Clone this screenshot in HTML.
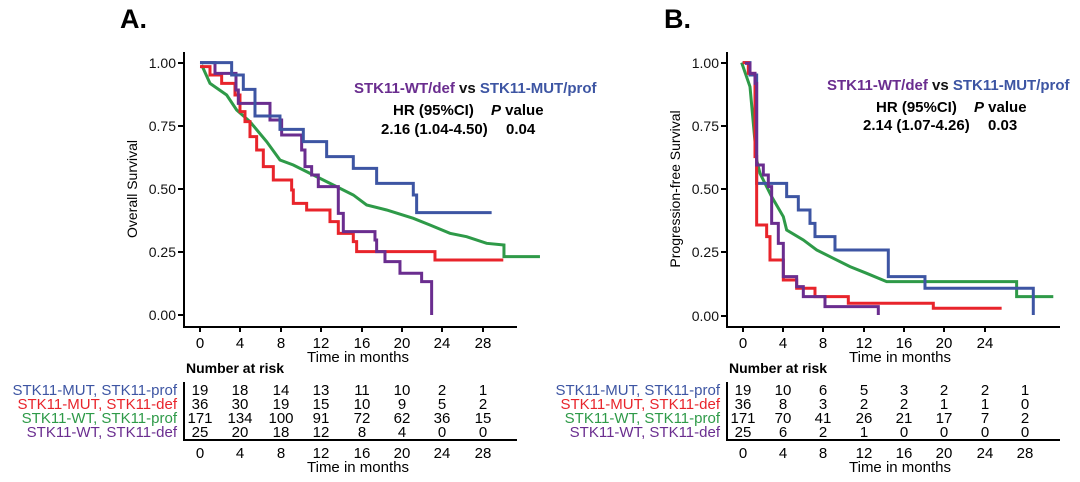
<!DOCTYPE html>
<html><head><meta charset="utf-8"><style>
html,body{margin:0;padding:0;background:#fff;}
svg{display:block;font-family:"Liberation Sans",Arial,sans-serif;}
</style></head><body>
<svg width="1080" height="482" viewBox="0 0 1080 482" xmlns="http://www.w3.org/2000/svg">
<text x="120" y="28" font-size="27" font-weight="bold">A.</text>
<text x="664" y="28" font-size="27" font-weight="bold">B.</text>

<!-- Panel A -->
<g fill="none" stroke-width="9" transform="translate(100,40) scale(0.3333)">
<path stroke="#2e9a48" d="M305,75 L330,130 L380,165 L410,210 L450,245 L500,305 L540,360 L580,375 L640,405 L700,435 L760,465 L800,495 L860,510 L940,535 L990,555 L1050,580 L1100,590 L1160,610 L1212,615 V650 H1320"/>
<path stroke="#e8242b" d="M300,80 H330 V105 H365 V130 H405 V165 H420 V215 H435 V245 H450 V290 H470 V330 H490 V380 H520 V420 H575 V450 H580 V490 H620 V510 H690 V545 H715 V580 H760 V605 H770 V635 H1005 V660 H1210"/>
<path stroke="#6a2d8f" d="M300,68 H345 V100 H408 V150 H415 V190 H510 V240 H545 V285 H605 V330 H615 V380 H635 V405 H655 V440 H715 V520 H730 V575 H825 V600 H830 V635 H855 V665 H900 V700 H965 V725 H995 V825"/>
<path stroke="#3d55a3" d="M300,68 H395 V105 H430 V148 H465 V228 H540 V268 H610 V305 H680 V350 H760 V385 H830 V430 H940 V465 H950 V518 H1175"/>
</g>
<g stroke="#000" stroke-width="2" fill="none">
<path d="M184,52 V327 H517"/>
<path d="M178,63 H184 M178,126 H184 M178,189 H184 M178,252 H184 M178,315 H184"/>
<path d="M200,327 V332 M240,327 V332 M281,327 V332 M321,327 V332 M362,327 V332 M402,327 V332 M442,327 V332 M483,327 V332"/>
<path d="M184,382 V440 H517"/>
</g>
<g font-size="14" text-anchor="end" fill="#111">
<text x="176" y="68">1.00</text><text x="176" y="131">0.75</text><text x="176" y="194">0.50</text><text x="176" y="257">0.25</text><text x="176" y="320">0.00</text>
</g>
<text transform="translate(137,189) rotate(-90)" font-size="14" text-anchor="middle">Overall Survival</text>
<g font-size="15" text-anchor="middle">
<text x="200" y="348">0</text><text x="240" y="348">4</text><text x="281" y="348">8</text><text x="321" y="348">12</text><text x="362" y="348">16</text><text x="402" y="348">20</text><text x="442" y="348">24</text><text x="483" y="348">28</text>
<text x="358" y="362">Time in months</text>
</g>
<text x="354" y="93" font-size="15" font-weight="bold" fill="#6a2d8f">STK11-WT/def <tspan fill="#111">vs</tspan> <tspan fill="#3d55a3">STK11-MUT/prof</tspan></text>
<text x="393" y="115" font-size="15" font-weight="bold">HR (95%CI)</text>
<text x="491" y="115" font-size="15" font-weight="bold"><tspan font-style="italic">P</tspan> value</text>
<text x="381" y="134" font-size="15" font-weight="bold">2.16 (1.04-4.50)</text>
<text x="506" y="134" font-size="15" font-weight="bold">0.04</text>
<text x="186" y="373" font-size="14" font-weight="bold">Number at risk</text>
<g font-size="15" text-anchor="end">
<text x="177" y="395" fill="#3d55a3">STK11-MUT, STK11-prof</text>
<text x="177" y="409" fill="#e8242b">STK11-MUT, STK11-def</text>
<text x="177" y="423" fill="#2e9a48">STK11-WT, STK11-prof</text>
<text x="177" y="437" fill="#6a2d8f">STK11-WT, STK11-def</text>
</g>
<g font-size="15" text-anchor="middle">
<text y="395"><tspan x="200">19</tspan><tspan x="240">18</tspan><tspan x="281">14</tspan><tspan x="321">13</tspan><tspan x="362">11</tspan><tspan x="402">10</tspan><tspan x="442">2</tspan><tspan x="483">1</tspan></text>
<text y="409"><tspan x="200">36</tspan><tspan x="240">30</tspan><tspan x="281">19</tspan><tspan x="321">15</tspan><tspan x="362">10</tspan><tspan x="402">9</tspan><tspan x="442">5</tspan><tspan x="483">2</tspan></text>
<text y="423"><tspan x="200">171</tspan><tspan x="240">134</tspan><tspan x="281">100</tspan><tspan x="321">91</tspan><tspan x="362">72</tspan><tspan x="402">62</tspan><tspan x="442">36</tspan><tspan x="483">15</tspan></text>
<text y="437"><tspan x="200">25</tspan><tspan x="240">20</tspan><tspan x="281">18</tspan><tspan x="321">12</tspan><tspan x="362">8</tspan><tspan x="402">4</tspan><tspan x="442">0</tspan><tspan x="483">0</tspan></text>
<text y="458"><tspan x="200">0</tspan><tspan x="240">4</tspan><tspan x="281">8</tspan><tspan x="321">12</tspan><tspan x="362">16</tspan><tspan x="402">20</tspan><tspan x="442">24</tspan><tspan x="483">28</tspan></text>
<text x="358" y="472">Time in months</text>
</g>

<!-- Panel B -->
<g fill="none" stroke-width="9" transform="translate(660,40) scale(0.3333)">
<path stroke="#2e9a48" d="M245,68 L270,140 L290,360 L300,400 L335,470 L370,530 L380,570 L430,600 L470,630 L520,655 L570,680 L620,700 L680,725 H1070 V770 H1180"/>
<path stroke="#3d55a3" d="M248,68 H270 V105 H290 V430 H380 V470 H415 V510 H450 V550 H465 V590 H525 V630 H685 V710 H795 V745 H1120 V825"/>
<path stroke="#e8242b" d="M248,68 H265 V100 H285 V350 H290 V555 H320 V590 H330 V660 H370 V720 H410 V745 H465 V770 H565 V790 H820 V805 H1025"/>
<path stroke="#6a2d8f" d="M255,70 H270 V100 H285 V130 H290 V375 H310 V405 H325 V440 H335 V550 H355 V610 H370 V710 H410 V740 H430 V770 H495 V800 H655 V825"/>
</g>
<g stroke="#000" stroke-width="2" fill="none">
<path d="M727,52 V327 H1060"/>
<path d="M721,63 H727 M721,126 H727 M721,189 H727 M721,252 H727 M721,316 H727"/>
<path d="M743,327 V332 M783,327 V332 M823,327 V332 M864,327 V332 M904,327 V332 M944,327 V332 M985,327 V332"/>
<path d="M727,382 V440 H1060"/>
</g>
<g font-size="14" text-anchor="end" fill="#111">
<text x="719" y="68">1.00</text><text x="719" y="131">0.75</text><text x="719" y="194">0.50</text><text x="719" y="257">0.25</text><text x="719" y="321">0.00</text>
</g>
<text transform="translate(680,189) rotate(-90)" font-size="14" text-anchor="middle">Progression-free Survival</text>
<g font-size="15" text-anchor="middle">
<text x="743" y="348">0</text><text x="783" y="348">4</text><text x="823" y="348">8</text><text x="864" y="348">12</text><text x="904" y="348">16</text><text x="944" y="348">20</text><text x="985" y="348">24</text>
<text x="900" y="362">Time in months</text>
</g>
<text x="827" y="90" font-size="15" font-weight="bold" fill="#6a2d8f">STK11-WT/def <tspan fill="#111">vs</tspan> <tspan fill="#3d55a3">STK11-MUT/prof</tspan></text>
<text x="876" y="112" font-size="15" font-weight="bold">HR (95%CI)</text>
<text x="974" y="112" font-size="15" font-weight="bold"><tspan font-style="italic">P</tspan> value</text>
<text x="863" y="130" font-size="15" font-weight="bold">2.14 (1.07-4.26)</text>
<text x="988" y="130" font-size="15" font-weight="bold">0.03</text>
<text x="729" y="373" font-size="14" font-weight="bold">Number at risk</text>
<g font-size="15" text-anchor="end">
<text x="720" y="395" fill="#3d55a3">STK11-MUT, STK11-prof</text>
<text x="720" y="409" fill="#e8242b">STK11-MUT, STK11-def</text>
<text x="720" y="423" fill="#2e9a48">STK11-WT, STK11-prof</text>
<text x="720" y="437" fill="#6a2d8f">STK11-WT, STK11-def</text>
</g>
<g font-size="15" text-anchor="middle">
<text y="395"><tspan x="743">19</tspan><tspan x="783">10</tspan><tspan x="823">6</tspan><tspan x="864">5</tspan><tspan x="904">3</tspan><tspan x="944">2</tspan><tspan x="985">2</tspan><tspan x="1025">1</tspan></text>
<text y="409"><tspan x="743">36</tspan><tspan x="783">8</tspan><tspan x="823">3</tspan><tspan x="864">2</tspan><tspan x="904">2</tspan><tspan x="944">1</tspan><tspan x="985">1</tspan><tspan x="1025">0</tspan></text>
<text y="423"><tspan x="743">171</tspan><tspan x="783">70</tspan><tspan x="823">41</tspan><tspan x="864">26</tspan><tspan x="904">21</tspan><tspan x="944">17</tspan><tspan x="985">7</tspan><tspan x="1025">2</tspan></text>
<text y="437"><tspan x="743">25</tspan><tspan x="783">6</tspan><tspan x="823">2</tspan><tspan x="864">1</tspan><tspan x="904">0</tspan><tspan x="944">0</tspan><tspan x="985">0</tspan><tspan x="1025">0</tspan></text>
<text y="458"><tspan x="743">0</tspan><tspan x="783">4</tspan><tspan x="823">8</tspan><tspan x="864">12</tspan><tspan x="904">16</tspan><tspan x="944">20</tspan><tspan x="985">24</tspan><tspan x="1025">28</tspan></text>
<text x="900" y="472">Time in months</text>
</g>
</svg>
</body></html>
